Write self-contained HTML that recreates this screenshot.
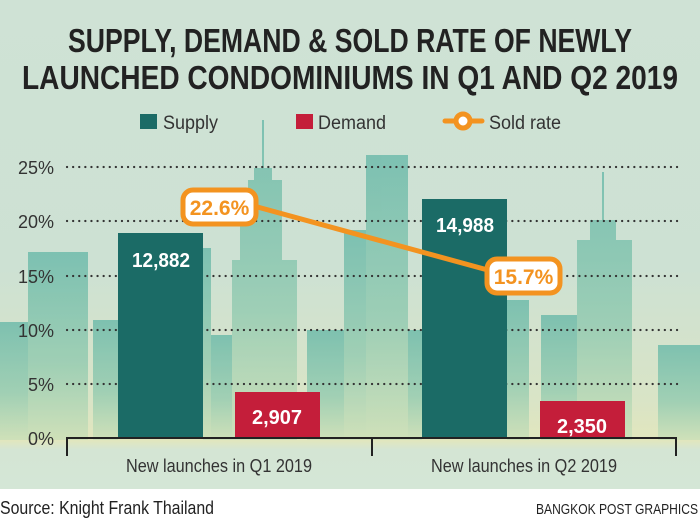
<!DOCTYPE html>
<html><head><meta charset="utf-8"><style>
html,body{margin:0;padding:0;background:#fff}
svg{display:block}
</style></head><body>
<svg width="700" height="527" viewBox="0 0 700 527" xmlns="http://www.w3.org/2000/svg" font-family="Liberation Sans, sans-serif">
<defs>
<linearGradient id="bg" x1="0" y1="0" x2="0" y2="1">
<stop offset="0" stop-color="#cfe2d5"/>
<stop offset="0.55" stop-color="#cde1d3"/>
<stop offset="0.82" stop-color="#d9e4c6"/>
<stop offset="0.9" stop-color="#e2e6bd"/>
<stop offset="0.92" stop-color="#d4e5d4"/>
<stop offset="1" stop-color="#d4e6d6"/>
</linearGradient>
<linearGradient id="bld" x1="0" y1="0" x2="0" y2="1">
<stop offset="0" stop-color="#62b6a6"/>
<stop offset="0.6" stop-color="#8ec9ae"/>
<stop offset="1" stop-color="#c9dfb8"/>
</linearGradient>
</defs>
<rect x="0" y="0" width="700" height="489" fill="url(#bg)"/>
<g fill="url(#bld)" opacity="0.75">
<rect x="0" y="322" width="28" height="118"/>
<rect x="28" y="252" width="60" height="188"/>
<rect x="93" y="320" width="25" height="120"/>
<rect x="203" y="248" width="8" height="192"/>
<rect x="211" y="335" width="24" height="105"/>
<path d="M232 440 V260 H240 V215 H248 V180 H254 V168 H262 V120 H264 V168 H272 V180 H282 V260 H297 V440 Z"/>
<rect x="307" y="330" width="60" height="110"/>
<rect x="344" y="230" width="22" height="210"/>
<rect x="366" y="155" width="42" height="285"/>
<rect x="408" y="330" width="14" height="110"/>
<rect x="507" y="300" width="22" height="140"/>
<rect x="541" y="315" width="40" height="125"/>
<path d="M577 440 V240 H590 V220 H602 V172 H604 V220 H616 V240 H632 V440 Z"/>
<rect x="658" y="345" width="42" height="95"/>
</g>
<g font-weight="bold" fill="#222" font-size="33">
<text x="68" y="52" textLength="564" lengthAdjust="spacingAndGlyphs">SUPPLY, DEMAND &amp; SOLD RATE OF NEWLY</text>
<text x="22" y="89" textLength="656" lengthAdjust="spacingAndGlyphs">LAUNCHED CONDOMINIUMS IN Q1 AND Q2 2019</text>
</g>
<rect x="140" y="114" width="17" height="15" fill="#1b6b66"/>
<text x="163" y="129" font-size="19" fill="#333" textLength="55" lengthAdjust="spacingAndGlyphs">Supply</text>
<rect x="296" y="114" width="17" height="15" fill="#c41e3a"/>
<text x="318" y="129" font-size="19" fill="#333" textLength="68" lengthAdjust="spacingAndGlyphs">Demand</text>
<line x1="445" y1="121" x2="482" y2="121" stroke="#f39320" stroke-width="5" stroke-linecap="round"/>
<circle cx="463" cy="121" r="7" fill="#fff" stroke="#f39320" stroke-width="5"/>
<text x="489" y="129" font-size="19" fill="#333" textLength="72" lengthAdjust="spacingAndGlyphs">Sold rate</text>
<g stroke="#333" stroke-width="2.2" stroke-dasharray="0.1 6" stroke-linecap="round">
<line x1="67" y1="167" x2="678" y2="167"/>
<line x1="67" y1="221" x2="678" y2="221"/>
<line x1="67" y1="276" x2="678" y2="276"/>
<line x1="67" y1="330" x2="678" y2="330"/>
<line x1="67" y1="384" x2="678" y2="384"/>
</g>
<g font-size="18" fill="#333" text-anchor="end">
<text x="54" y="174">25%</text>
<text x="54" y="228">20%</text>
<text x="54" y="283">15%</text>
<text x="54" y="337">10%</text>
<text x="54" y="391">5%</text>
<text x="54" y="445">0%</text>
</g>
<rect x="118" y="233" width="85" height="205" fill="#1b6b66"/>
<rect x="235" y="392" width="85" height="46" fill="#c41e3a"/>
<rect x="422" y="199" width="85" height="239" fill="#1b6b66"/>
<rect x="540" y="401" width="85" height="37" fill="#c41e3a"/>
<g font-size="20" fill="#fff" text-anchor="middle" font-weight="bold">
<text x="161" y="267" textLength="58" lengthAdjust="spacingAndGlyphs">12,882</text>
<text x="277" y="424" textLength="50" lengthAdjust="spacingAndGlyphs">2,907</text>
<text x="465" y="232" textLength="58" lengthAdjust="spacingAndGlyphs">14,988</text>
<text x="582" y="433" textLength="50" lengthAdjust="spacingAndGlyphs">2,350</text>
</g>
<path d="M67 456 V438 H676 V456 M372 438 V456" fill="none" stroke="#222" stroke-width="2"/>
<g font-size="18" fill="#333" text-anchor="middle">
<text x="219" y="472" textLength="186" lengthAdjust="spacingAndGlyphs">New launches in Q1 2019</text>
<text x="524" y="472" textLength="186" lengthAdjust="spacingAndGlyphs">New launches in Q2 2019</text>
</g>
<line x1="250" y1="205" x2="495" y2="272" stroke="#f39320" stroke-width="5"/>
<rect x="183" y="190" width="73" height="34" rx="10" fill="#fff" stroke="#f39320" stroke-width="5"/>
<text x="219.5" y="215" font-size="21" font-weight="bold" fill="#f39320" text-anchor="middle">22.6%</text>
<rect x="487" y="259" width="73" height="34" rx="10" fill="#fff" stroke="#f39320" stroke-width="5"/>
<text x="523.5" y="284" font-size="21" font-weight="bold" fill="#f39320" text-anchor="middle">15.7%</text>
<text x="0" y="514" font-size="18" fill="#222" textLength="214" lengthAdjust="spacingAndGlyphs">Source: Knight Frank Thailand</text>
<text x="698" y="514" font-size="15" fill="#222" text-anchor="end" textLength="162" lengthAdjust="spacingAndGlyphs">BANGKOK POST GRAPHICS</text>
</svg>
</body></html>
